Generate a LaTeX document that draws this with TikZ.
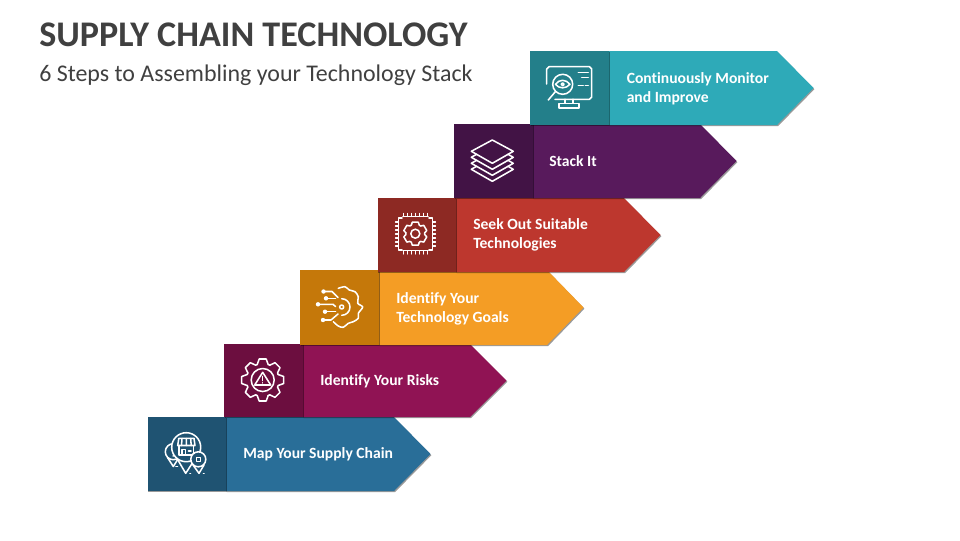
\documentclass[tikz,border=0pt]{standalone}
\usepackage{fontspec}
\setmainfont[Ligatures=NoCommon]{Carlito}
\usetikzlibrary{shadows}
\definecolor{tealA}{RGB}{46,170,184}
\definecolor{tealB}{RGB}{35,127,138}
\definecolor{plumA}{RGB}{88,26,92}
\definecolor{plumB}{RGB}{66,19,69}
\definecolor{redA}{RGB}{189,55,46}
\definecolor{redB}{RGB}{141,41,35}
\definecolor{amberA}{RGB}{244,157,37}
\definecolor{amberB}{RGB}{197,120,10}
\definecolor{wineA}{RGB}{144,19,84}
\definecolor{wineB}{RGB}{108,14,63}
\definecolor{blueA}{RGB}{41,110,152}
\definecolor{blueB}{RGB}{31,83,114}
\definecolor{inkC}{RGB}{64,64,64}
\tikzset{
  stepshadow/.style={drop shadow={shadow xshift=.7pt,shadow yshift=-.9pt,opacity=.4,fill=black}},
  steplabel/.style={anchor=west,inner sep=0pt,text=white,align=left,font=\bfseries\fontsize{11.7}{14.25}\selectfont},
  iconline/.style={draw=white,line width=1.15pt,line cap=round,line join=round},
}
\begin{document}
\begin{tikzpicture}[x=0.75pt,y=0.75pt,yscale=-1,xscale=1]
    \useasboundingbox (0,0) rectangle (960,540);
    % Title
    \node (title) [anchor=west,inner sep=0pt,text=inkC,font=\bfseries\fontsize{27.05}{32}\selectfont] at (39,34.5) {SUPPLY CHAIN TECHNOLOGY};
    \node (subtitle) [anchor=west,inner sep=0pt,text=inkC,font=\fontsize{17.95}{21}\selectfont] at (39,75.5) {6 Steps to Assembling your Technology Stack};

    % Step 1
    \draw [fill=blueA,draw=none,stepshadow] (226,417) -- (394,417) -- (430.5,454) -- (394,491) -- (226,491) -- cycle ;
    \draw [fill=blueB,draw=none,stepshadow] (147.5,417) rectangle (226,491) ;
    % Step 2
    \draw [fill=wineA,draw=none,stepshadow] (303,344) -- (470,344) -- (506.5,380.5) -- (470,417) -- (303,417) -- cycle ;
    \draw [fill=wineB,draw=none,stepshadow] (224,344) rectangle (303,417) ;
    % Step 3
    \draw [fill=amberA,draw=none,stepshadow] (379,270) -- (547,270) -- (583.5,307.5) -- (547,345) -- (379,345) -- cycle ;
    \draw [fill=amberB,draw=none,stepshadow] (300,270) rectangle (379,345) ;
    % Step 4
    \draw [fill=redA,draw=none,stepshadow] (456,198) -- (624,198) -- (660.5,235) -- (624,272) -- (456,272) -- cycle ;
    \draw [fill=redB,draw=none,stepshadow] (377.5,198) rectangle (456,272) ;
    % Step 5
    \draw [fill=plumA,draw=none,stepshadow] (533,124) -- (700,124) -- (736.5,161) -- (700,198) -- (533,198) -- cycle ;
    \draw [fill=plumB,draw=none,stepshadow] (454,124) rectangle (533,198) ;
    % Step 6
    \draw [fill=tealA,draw=none,stepshadow] (609,51) -- (777,51) -- (813.5,88) -- (777,125) -- (609,125) -- cycle ;
    \draw [fill=tealB,draw=none,stepshadow] (530,51) rectangle (609,125) ;

    % Icon: shop and map pins
    \draw [iconline] (173.3,451.7) circle (8);
    \draw [iconline] (177.5,451.5) arc (0:90:4.5);
    \draw [iconline] (167.5,457.5) -- (173.3,466.5) -- (179,457.5);
    \draw [iconline] (176,466.5) -- (177.5,466.5);
    \draw [iconline,fill=blueB] (177.3,459) -- (185.7,473.3) -- (195,459) -- cycle;
    \draw [iconline,fill=blueB] (186.2,447.2) circle (14.5);
    \draw [iconline] (177.7,445.5) -- (178.8,438.3) -- (194,438.3) -- (195,445.5) -- cycle;
    \draw [iconline] (182,438.5) -- (181.5,445.5) (186.3,438.5) -- (186.3,445.5) (190.7,438.5) -- (191.2,445.5);
    \draw [iconline] (179,445.5) -- (179,455) -- (193.5,455) -- (193.5,445.5);
    \draw [iconline] (182,455) -- (182,449.5) -- (185.5,449.5) -- (185.5,455);
    \draw [iconline] (188.5,451) -- (191,451);
    \draw [iconline,fill=blueB] (193,465) -- (199,473.3) -- (204,465) -- cycle;
    \draw [iconline,fill=blueB] (198.3,459.3) circle (7.5);
    \draw [iconline] (196.3,457.3) rectangle (200.3,461.3);
    \draw [iconline] (190,473.3) -- (190.5,473.3) (203.5,473.3) -- (204,473.3);

    % Icon: gear and warning
    \foreach \ang in {0,45,...,315}
      \draw [iconline,rotate around={\ang:(262.7,380)}] (257.2,364.5) -- (259.2,359) -- (266.2,359) -- (268.2,364.5) -- (269.8,365.2);
    \draw [iconline] (262.7,380) circle (11.5);
    \draw [iconline] (262.7,372.3) -- (270.7,385) -- (254.7,385) -- cycle;
    \draw [iconline] (262.7,376.5) -- (262.7,380.5) (262.7,382.8) -- (262.7,382.9);

    % Icon: technology goals
    \draw [iconline] plot [smooth] coordinates {(338.3,288.3) (345,286.7) (349.3,290) (355,291.7) (358.3,296.7) (357.7,303.3) (362.7,307) (358.3,313.3) (358.3,318.3) (353.3,321.7) (348.3,323.3) (343.3,327.3) (338.3,326) (333.3,321.7)};
    \draw [iconline] (341.7,298.7) arc (-90:90:8.3);
    \draw [iconline] (341.7,307) circle (2);
    \draw [iconline] (323.5,291.5) -- (332,291.5) -- (338,297.5);
    \draw [iconline] (326,298.3) -- (335.5,298.3);
    \draw [iconline] (318,304.3) -- (333,304.3) -- (335.5,306.5);
    \draw [iconline] (325,311.7) -- (335.5,311.7);
    \draw [iconline] (323,320) -- (331,320) -- (338,314);
    \foreach \dotx/\doty in {323.5/291.5,326/298.3,318/304.3,325/311.7,323/320}
      \fill [white] (\dotx,\doty) circle (2.2);

    % Icon: chip with gear
    \draw [iconline] (403,216.7) -- (428,216.7) (403,250.7) -- (428,250.7);
    \draw [iconline] (402,218) -- (398.7,218) -- (398.7,250) -- (402,250) (429,218) -- (432.3,218) -- (432.3,250) -- (429,250);
    \foreach \i in {0,1,...,6}
      \draw [iconline,line width=.9pt] (\i*4+403.5,213.5) -- (\i*4+403.5,216.5) (\i*4+403.5,251) -- (\i*4+403.5,254) ;
    \foreach \i in {0,1,...,6}
      \draw [iconline,line width=.9pt] (395.5,\i*4+222) -- (398.5,\i*4+222) (432.5,\i*4+222) -- (435.5,\i*4+222) ;
    \draw [iconline] (415.3,233.7) circle (4.5);
    \foreach \ang in {0,60,...,300}
      \draw [iconline,rotate around={\ang:(415.3,233.7)}] (411.3,225.2) -- (412.3,222.2) -- (418.3,222.2) -- (419.3,225.2) -- (420.7,226);

    % Icon: layers
    \draw [iconline] (492.3,140) -- (513.3,151.3) -- (492.3,163.3) -- (471.3,151.3) -- cycle;
    \foreach \off in {6,12,18}
      \draw [iconline] (476.6,\off+148.3) -- (471.3,\off+151.3) -- (492.3,\off+163.3) -- (513.3,\off+151.3) -- (508,\off+148.3);

    % Icon: monitor and lens
    \draw [iconline] (546.7,84) -- (546.7,69) -- (549,66.7) -- (589.5,66.7) -- (591.7,69) -- (591.7,97) -- (589.5,99.3) -- (555,99.3);
    \draw [iconline] (562.7,84.3) circle (10);
    \draw [iconline] (548.3,100) -- (555.5,91.5);
    \draw [iconline] (555.5,84.3) .. controls (559,79) and (566,79) .. (570,84.3) .. controls (566,89) and (559,89) .. (555.5,84.3) -- cycle;
    \draw [iconline] (562.7,84.3) circle (1.5);
    \draw [iconline] (578.3,72.3) -- (588.3,72.3) (581.7,77.3) -- (588.3,77.3) (578.3,85.7) -- (583.3,85.7) (585.5,85.7) -- (588.3,85.7);
    \draw [iconline] (565,99.3) -- (565,103) (573,99.3) -- (573,103);
    \draw [iconline] (559,103.5) rectangle (579,108);

    % Text Node
    \node (mapchain) [steplabel] at (243,454) {Map Your Supply Chain};
    \node (risks) [steplabel] at (320,381) {Identify Your Risks};
    \node (goals) [steplabel] at (396,308.5) {Identify Your\\Technology Goals};
    \node (suitable) [steplabel] at (473,234.5) {Seek Out Suitable\\Technologies};
    \node (stackit) [steplabel] at (549,161) {Stack It};
    \node (monitor) [steplabel] at (626.5,88.5) {Continuously Monitor\\and Improve};
\end{tikzpicture}
\end{document}
